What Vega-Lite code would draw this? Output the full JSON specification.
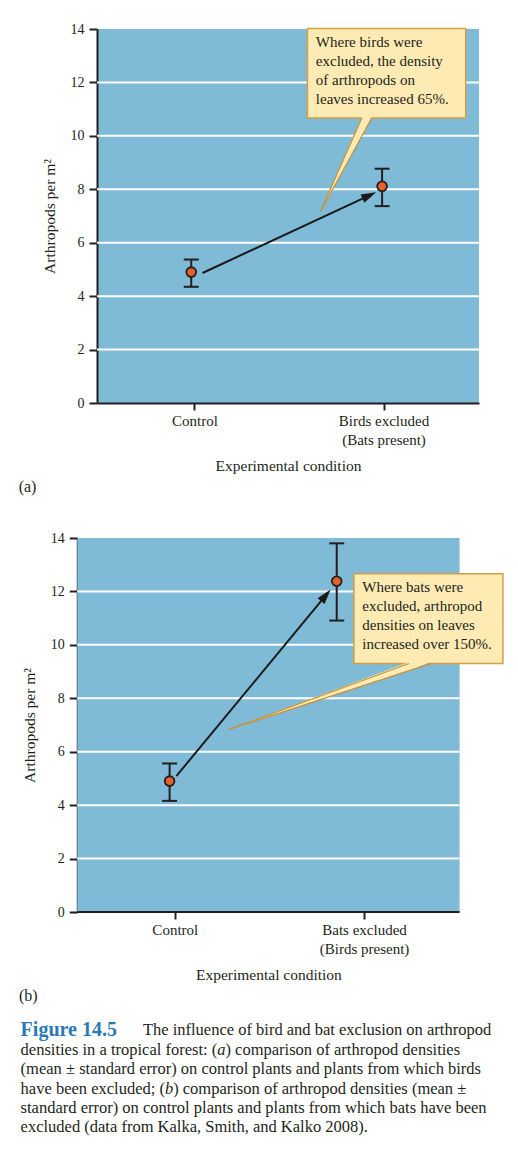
{
  "$schema": "https://vega.github.io/schema/vega-lite/v6.json",
  "background": "white",
  "padding": {"left": 18, "top": 22, "right": 0, "bottom": 0},
  "spacing": 35,
  "config": {
    "font": "Liberation Serif",
    "view": {"stroke": null},
    "axis": {
      "grid": false,
      "domainColor": "#231f20",
      "domainWidth": 2,
      "tickColor": "#231f20",
      "tickWidth": 2,
      "tickSize": 8,
      "labelColor": "#231f20",
      "labelFont": "Liberation Serif",
      "titleFont": "Liberation Serif",
      "titleColor": "#231f20",
      "titleFontWeight": "normal"
    },
    "axisY": {"labelFontSize": 14, "labelPadding": 5, "titleFontSize": 15.5, "titlePadding": 13},
    "axisX": {"labelFontSize": 15, "labelPadding": 3, "labelLineHeight": 19, "titleFontSize": 15.5, "titlePadding": 11, "tickSize": 7, "labelFlush": false}
  },
  "datasets": {
    "ptsA": [
      {"x": 0.2467, "y": 4.9, "lo": 4.35, "hi": 5.37},
      {"x": 0.7463, "y": 8.11, "lo": 7.37, "hi": 8.77}
    ],
    "ptsB": [
      {"x": 0.2414, "y": 4.9, "lo": 4.16, "hi": 5.56},
      {"x": 0.6786, "y": 12.38, "lo": 10.91, "hi": 13.8}
    ],
    "grid": [
      {"v": 2, "x0": 0, "x1": 1}, {"v": 4, "x0": 0, "x1": 1}, {"v": 6, "x0": 0, "x1": 1},
      {"v": 8, "x0": 0, "x1": 1}, {"v": 10, "x0": 0, "x1": 1}, {"v": 12, "x0": 0, "x1": 1}
    ]
  },
  "vconcat": [
    {
      "width": 382,
      "height": 374,
      "view": {"fill": "#7fbbd6", "stroke": null},
      "layer": [
        {
          "data": {"name": "grid"},
          "mark": {"type": "rule", "color": "white", "strokeWidth": 2},
          "encoding": {
            "y": {"field": "v", "type": "quantitative", "scale": {"domain": [0, 14], "nice": false},
              "axis": {"values": [0, 2, 4, 6, 8, 10, 12, 14], "title": "Arthropods per m²"}}
          }
        },
        {
          "data": {"name": "ptsA"},
          "mark": {"type": "rule", "color": "#231f20", "strokeWidth": 2},
          "encoding": {
            "x": {"field": "x", "type": "quantitative", "scale": {"domain": [0, 1], "nice": false, "zero": false},
              "axis": {"values": [0.255, 0.75], "title": "Experimental condition",
                "labelExpr": "datum.value < 0.5 ? 'Control' : ['Birds excluded', '(Bats present)']"}},
            "y": {"field": "lo", "type": "quantitative", "scale": {"domain": [0, 14], "nice": false},
              "axis": {"values": [0, 2, 4, 6, 8, 10, 12, 14], "title": "Arthropods per m²"}},
            "y2": {"field": "hi"}
          }
        },
        {
          "data": {"name": "ptsA"},
          "mark": {"type": "tick", "orient": "horizontal", "size": 15, "thickness": 2, "color": "#231f20", "opacity": 1},
          "encoding": {
            "x": {"field": "x", "type": "quantitative", "scale": {"domain": [0, 1], "nice": false, "zero": false},
              "axis": {"values": [0.255, 0.75], "title": "Experimental condition",
                "labelExpr": "datum.value < 0.5 ? 'Control' : ['Birds excluded', '(Bats present)']"}},
            "y": {"field": "lo", "type": "quantitative", "scale": {"domain": [0, 14], "nice": false},
              "axis": {"values": [0, 2, 4, 6, 8, 10, 12, 14], "title": "Arthropods per m²"}}
          }
        },
        {
          "data": {"name": "ptsA"},
          "mark": {"type": "tick", "orient": "horizontal", "size": 15, "thickness": 2, "color": "#231f20", "opacity": 1},
          "encoding": {
            "x": {"field": "x", "type": "quantitative", "scale": {"domain": [0, 1], "nice": false, "zero": false},
              "axis": {"values": [0.255, 0.75], "title": "Experimental condition",
                "labelExpr": "datum.value < 0.5 ? 'Control' : ['Birds excluded', '(Bats present)']"}},
            "y": {"field": "hi", "type": "quantitative", "scale": {"domain": [0, 14], "nice": false},
              "axis": {"values": [0, 2, 4, 6, 8, 10, 12, 14], "title": "Arthropods per m²"}}
          }
        },
        {
          "data": {"values": [{"x": 0.2762, "y": 4.867}, {"x": 0.7163, "y": 7.791}]},
          "mark": {"type": "line", "color": "#1a1a1a", "strokeWidth": 2},
          "encoding": {
            "x": {"field": "x", "type": "quantitative", "scale": {"domain": [0, 1], "nice": false, "zero": false},
              "axis": {"values": [0.255, 0.75], "title": "Experimental condition",
                "labelExpr": "datum.value < 0.5 ? 'Control' : ['Birds excluded', '(Bats present)']"}},
            "y": {"field": "y", "type": "quantitative", "scale": {"domain": [0, 14], "nice": false},
              "axis": {"values": [0, 2, 4, 6, 8, 10, 12, 14], "title": "Arthropods per m²"}}
          }
        },
        {
          "data": {"values": [{"x": 0.7306, "y": 7.885}]},
          "mark": {"type": "point", "shape": "M0,0L-0.3,1L0.3,1Z", "size": 900, "angle": 65.1, "filled": true, "color": "#1a1a1a", "opacity": 1},
          "encoding": {
            "x": {"field": "x", "type": "quantitative", "scale": {"domain": [0, 1], "nice": false, "zero": false},
              "axis": {"values": [0.255, 0.75], "title": "Experimental condition",
                "labelExpr": "datum.value < 0.5 ? 'Control' : ['Birds excluded', '(Bats present)']"}},
            "y": {"field": "y", "type": "quantitative", "scale": {"domain": [0, 14], "nice": false},
              "axis": {"values": [0, 2, 4, 6, 8, 10, 12, 14], "title": "Arthropods per m²"}}
          }
        },
        {
          "data": {"name": "ptsA"},
          "mark": {"type": "point", "shape": "circle", "size": 95, "filled": true, "fill": "#e4612a", "stroke": "#231f20", "strokeWidth": 1.8, "opacity": 1},
          "encoding": {
            "x": {"field": "x", "type": "quantitative", "scale": {"domain": [0, 1], "nice": false, "zero": false},
              "axis": {"values": [0.255, 0.75], "title": "Experimental condition",
                "labelExpr": "datum.value < 0.5 ? 'Control' : ['Birds excluded', '(Bats present)']"}},
            "y": {"field": "y", "type": "quantitative", "scale": {"domain": [0, 14], "nice": false},
              "axis": {"values": [0, 2, 4, 6, 8, 10, 12, 14], "title": "Arthropods per m²"}}
          }
        },
        {
          "data": {"values": [{"x": 0.5509, "x2": 0.9652, "y": 14.02, "y2": 10.67}]},
          "mark": {"type": "rect", "fill": "#fdebb3", "stroke": "#d39c45", "strokeWidth": 1.5},
          "encoding": {
            "x": {"field": "x", "type": "quantitative", "scale": {"domain": [0, 1], "nice": false, "zero": false},
              "axis": {"values": [0.255, 0.75], "title": "Experimental condition",
                "labelExpr": "datum.value < 0.5 ? 'Control' : ['Birds excluded', '(Bats present)']"}},
            "x2": {"field": "x2"},
            "y": {"field": "y", "type": "quantitative", "scale": {"domain": [0, 14], "nice": false},
              "axis": {"values": [0, 2, 4, 6, 8, 10, 12, 14], "title": "Arthropods per m²"}},
            "y2": {"field": "y2"}
          }
        },
        {
          "data": {"values": [{"x": 0.5859, "y": 7.19, "y2": 7.19}, {"x": 0.6932, "y": 10.72, "y2": 9.99}, {"x": 0.7193, "y": 10.72, "y2": 10.72}]},
          "mark": {"type": "area", "fill": "#fdebb3", "opacity": 1},
          "encoding": {
            "x": {"field": "x", "type": "quantitative", "scale": {"domain": [0, 1], "nice": false, "zero": false},
              "axis": {"values": [0.255, 0.75], "title": "Experimental condition",
                "labelExpr": "datum.value < 0.5 ? 'Control' : ['Birds excluded', '(Bats present)']"}},
            "y": {"field": "y", "type": "quantitative", "scale": {"domain": [0, 14], "nice": false},
              "axis": {"values": [0, 2, 4, 6, 8, 10, 12, 14], "title": "Arthropods per m²"}},
            "y2": {"field": "y2"}
          }
        },
        {
          "data": {"values": [{"x": 0.5859, "y": 7.19, "x2": 0.6932, "y2": 10.67}, {"x": 0.5859, "y": 7.19, "x2": 0.7193, "y2": 10.67}]},
          "mark": {"type": "rule", "color": "#c98f35", "strokeWidth": 1.2},
          "encoding": {
            "x": {"field": "x", "type": "quantitative", "scale": {"domain": [0, 1], "nice": false, "zero": false},
              "axis": {"values": [0.255, 0.75], "title": "Experimental condition",
                "labelExpr": "datum.value < 0.5 ? 'Control' : ['Birds excluded', '(Bats present)']"}},
            "x2": {"field": "x2"},
            "y": {"field": "y", "type": "quantitative", "scale": {"domain": [0, 14], "nice": false},
              "axis": {"values": [0, 2, 4, 6, 8, 10, 12, 14], "title": "Arthropods per m²"}},
            "y2": {"field": "y2"}
          }
        },
        {
          "data": {"values": [{"x": 0.5728, "y": 13.77, "t": ["Where birds were", "excluded, the density", "of arthropods on", "leaves increased 65%."]}]},
          "mark": {"type": "text", "align": "left", "baseline": "top", "fontSize": 15, "lineHeight": 19, "color": "#231f20"},
          "encoding": {
            "x": {"field": "x", "type": "quantitative", "scale": {"domain": [0, 1], "nice": false, "zero": false},
              "axis": {"values": [0.255, 0.75], "title": "Experimental condition",
                "labelExpr": "datum.value < 0.5 ? 'Control' : ['Birds excluded', '(Bats present)']"}},
            "y": {"field": "y", "type": "quantitative", "scale": {"domain": [0, 14], "nice": false},
              "axis": {"values": [0, 2, 4, 6, 8, 10, 12, 14], "title": "Arthropods per m²"}},
            "text": {"field": "t", "type": "nominal"}
          }
        },
        {
          "data": {"values": [{"x": -0.205, "y": -3.145, "t": "(a)"}]},
          "mark": {"type": "text", "align": "left", "baseline": "middle", "fontSize": 16, "color": "#231f20"},
          "encoding": {
            "x": {"field": "x", "type": "quantitative", "scale": {"domain": [0, 1], "nice": false, "zero": false},
              "axis": {"values": [0.255, 0.75], "title": "Experimental condition",
                "labelExpr": "datum.value < 0.5 ? 'Control' : ['Birds excluded', '(Bats present)']"}},
            "y": {"field": "y", "type": "quantitative", "scale": {"domain": [0, 14], "nice": false},
              "axis": {"values": [0, 2, 4, 6, 8, 10, 12, 14], "title": "Arthropods per m²"}},
            "text": {"field": "t", "type": "nominal"}
          }
        }
      ]
    },
    {
      "width": 362.6,
      "height": 374,
      "layer": [
        {
          "data": {"values": [{"x": 0, "x2": 1, "y": 0, "y2": 14}]},
          "mark": {"type": "rect", "fill": "#7fbbd6"},
          "encoding": {
            "x": {"field": "x", "type": "quantitative", "scale": {"domain": [0.0515, 1], "nice": false, "zero": false},
              "axis": {"values": [0.255, 0.75], "title": "Experimental condition", "domain": false, "titleX": 171.4,
                "labelExpr": "datum.value < 0.5 ? 'Control' : ['Bats excluded', '(Birds present)']"}},
            "x2": {"field": "x2"},
            "y": {"field": "y", "type": "quantitative", "scale": {"domain": [0, 14], "nice": false},
              "axis": {"values": [0, 2, 4, 6, 8, 10, 12, 14], "title": "Arthropods per m²", "offset": 19.7}},
            "y2": {"field": "y2"}
          }
        },
        {
          "data": {"name": "grid"},
          "mark": {"type": "rule", "color": "white", "strokeWidth": 2},
          "encoding": {
            "x": {"field": "x0", "type": "quantitative", "scale": {"domain": [0.0515, 1], "nice": false, "zero": false},
              "axis": {"values": [0.255, 0.75], "title": "Experimental condition", "domain": false, "titleX": 171.4,
                "labelExpr": "datum.value < 0.5 ? 'Control' : ['Bats excluded', '(Birds present)']"}},
            "x2": {"field": "x1"},
            "y": {"field": "v", "type": "quantitative", "scale": {"domain": [0, 14], "nice": false},
              "axis": {"values": [0, 2, 4, 6, 8, 10, 12, 14], "title": "Arthropods per m²", "offset": 19.7}}
          }
        },
        {
          "data": {"values": [{"x": 0, "x2": 1, "y": 0}]},
          "mark": {"type": "rule", "color": "#231f20", "strokeWidth": 2},
          "encoding": {
            "x": {"field": "x", "type": "quantitative", "scale": {"domain": [0.0515, 1], "nice": false, "zero": false},
              "axis": {"values": [0.255, 0.75], "title": "Experimental condition", "domain": false, "titleX": 171.4,
                "labelExpr": "datum.value < 0.5 ? 'Control' : ['Bats excluded', '(Birds present)']"}},
            "x2": {"field": "x2"},
            "y": {"field": "y", "type": "quantitative", "scale": {"domain": [0, 14], "nice": false},
              "axis": {"values": [0, 2, 4, 6, 8, 10, 12, 14], "title": "Arthropods per m²", "offset": 19.7}}
          }
        },
        {
          "data": {"name": "ptsB"},
          "mark": {"type": "rule", "color": "#231f20", "strokeWidth": 2},
          "encoding": {
            "x": {"field": "x", "type": "quantitative", "scale": {"domain": [0.0515, 1], "nice": false, "zero": false},
              "axis": {"values": [0.255, 0.75], "title": "Experimental condition", "domain": false, "titleX": 171.4,
                "labelExpr": "datum.value < 0.5 ? 'Control' : ['Bats excluded', '(Birds present)']"}},
            "y": {"field": "lo", "type": "quantitative", "scale": {"domain": [0, 14], "nice": false},
              "axis": {"values": [0, 2, 4, 6, 8, 10, 12, 14], "title": "Arthropods per m²", "offset": 19.7}},
            "y2": {"field": "hi"}
          }
        },
        {
          "data": {"name": "ptsB"},
          "mark": {"type": "tick", "orient": "horizontal", "size": 15, "thickness": 2, "color": "#231f20", "opacity": 1},
          "encoding": {
            "x": {"field": "x", "type": "quantitative", "scale": {"domain": [0.0515, 1], "nice": false, "zero": false},
              "axis": {"values": [0.255, 0.75], "title": "Experimental condition", "domain": false, "titleX": 171.4,
                "labelExpr": "datum.value < 0.5 ? 'Control' : ['Bats excluded', '(Birds present)']"}},
            "y": {"field": "lo", "type": "quantitative", "scale": {"domain": [0, 14], "nice": false},
              "axis": {"values": [0, 2, 4, 6, 8, 10, 12, 14], "title": "Arthropods per m²", "offset": 19.7}}
          }
        },
        {
          "data": {"name": "ptsB"},
          "mark": {"type": "tick", "orient": "horizontal", "size": 15, "thickness": 2, "color": "#231f20", "opacity": 1},
          "encoding": {
            "x": {"field": "x", "type": "quantitative", "scale": {"domain": [0.0515, 1], "nice": false, "zero": false},
              "axis": {"values": [0.255, 0.75], "title": "Experimental condition", "domain": false, "titleX": 171.4,
                "labelExpr": "datum.value < 0.5 ? 'Control' : ['Bats excluded', '(Birds present)']"}},
            "y": {"field": "hi", "type": "quantitative", "scale": {"domain": [0, 14], "nice": false},
              "axis": {"values": [0, 2, 4, 6, 8, 10, 12, 14], "title": "Arthropods per m²", "offset": 19.7}}
          }
        },
        {
          "data": {"values": [{"x": 0.259, "y": 5.086}, {"x": 0.6526, "y": 11.896}]},
          "mark": {"type": "line", "color": "#1a1a1a", "strokeWidth": 2},
          "encoding": {
            "x": {"field": "x", "type": "quantitative", "scale": {"domain": [0.0515, 1], "nice": false, "zero": false},
              "axis": {"values": [0.255, 0.75], "title": "Experimental condition", "domain": false, "titleX": 171.4,
                "labelExpr": "datum.value < 0.5 ? 'Control' : ['Bats excluded', '(Birds present)']"}},
            "y": {"field": "y", "type": "quantitative", "scale": {"domain": [0, 14], "nice": false},
              "axis": {"values": [0, 2, 4, 6, 8, 10, 12, 14], "title": "Arthropods per m²", "offset": 19.7}}
          }
        },
        {
          "data": {"values": [{"x": 0.6626, "y": 12.07}]},
          "mark": {"type": "point", "shape": "M0,0L-0.3,1L0.3,1Z", "size": 900, "angle": 39.6, "filled": true, "color": "#1a1a1a", "opacity": 1},
          "encoding": {
            "x": {"field": "x", "type": "quantitative", "scale": {"domain": [0.0515, 1], "nice": false, "zero": false},
              "axis": {"values": [0.255, 0.75], "title": "Experimental condition", "domain": false, "titleX": 171.4,
                "labelExpr": "datum.value < 0.5 ? 'Control' : ['Bats excluded', '(Birds present)']"}},
            "y": {"field": "y", "type": "quantitative", "scale": {"domain": [0, 14], "nice": false},
              "axis": {"values": [0, 2, 4, 6, 8, 10, 12, 14], "title": "Arthropods per m²", "offset": 19.7}}
          }
        },
        {
          "data": {"name": "ptsB"},
          "mark": {"type": "point", "shape": "circle", "size": 95, "filled": true, "fill": "#e4612a", "stroke": "#231f20", "strokeWidth": 1.8, "opacity": 1},
          "encoding": {
            "x": {"field": "x", "type": "quantitative", "scale": {"domain": [0.0515, 1], "nice": false, "zero": false},
              "axis": {"values": [0.255, 0.75], "title": "Experimental condition", "domain": false, "titleX": 171.4,
                "labelExpr": "datum.value < 0.5 ? 'Control' : ['Bats excluded', '(Birds present)']"}},
            "y": {"field": "y", "type": "quantitative", "scale": {"domain": [0, 14], "nice": false},
              "axis": {"values": [0, 2, 4, 6, 8, 10, 12, 14], "title": "Arthropods per m²", "offset": 19.7}}
          }
        },
        {
          "data": {"values": [{"x": 0.7235, "x2": 1.1133, "y": 12.66, "y2": 9.3}]},
          "mark": {"type": "rect", "fill": "#fdebb3", "stroke": "#d39c45", "strokeWidth": 1.5},
          "encoding": {
            "x": {"field": "x", "type": "quantitative", "scale": {"domain": [0.0515, 1], "nice": false, "zero": false},
              "axis": {"values": [0.255, 0.75], "title": "Experimental condition", "domain": false, "titleX": 171.4,
                "labelExpr": "datum.value < 0.5 ? 'Control' : ['Bats excluded', '(Birds present)']"}},
            "x2": {"field": "x2"},
            "y": {"field": "y", "type": "quantitative", "scale": {"domain": [0, 14], "nice": false},
              "axis": {"values": [0, 2, 4, 6, 8, 10, 12, 14], "title": "Arthropods per m²", "offset": 19.7}},
            "y2": {"field": "y2"}
          }
        },
        {
          "data": {"values": [{"x": 0.3966, "y": 6.83, "y2": 6.83}, {"x": 0.8674, "y": 9.36, "y2": 9.035}, {"x": 0.9242, "y": 9.36, "y2": 9.36}]},
          "mark": {"type": "area", "fill": "#fdebb3", "opacity": 1},
          "encoding": {
            "x": {"field": "x", "type": "quantitative", "scale": {"domain": [0.0515, 1], "nice": false, "zero": false},
              "axis": {"values": [0.255, 0.75], "title": "Experimental condition", "domain": false, "titleX": 171.4,
                "labelExpr": "datum.value < 0.5 ? 'Control' : ['Bats excluded', '(Birds present)']"}},
            "y": {"field": "y", "type": "quantitative", "scale": {"domain": [0, 14], "nice": false},
              "axis": {"values": [0, 2, 4, 6, 8, 10, 12, 14], "title": "Arthropods per m²", "offset": 19.7}},
            "y2": {"field": "y2"}
          }
        },
        {
          "data": {"values": [{"x": 0.3966, "y": 6.83, "x2": 0.8674, "y2": 9.3}, {"x": 0.3966, "y": 6.83, "x2": 0.9242, "y2": 9.3}]},
          "mark": {"type": "rule", "color": "#c98f35", "strokeWidth": 1.2},
          "encoding": {
            "x": {"field": "x", "type": "quantitative", "scale": {"domain": [0.0515, 1], "nice": false, "zero": false},
              "axis": {"values": [0.255, 0.75], "title": "Experimental condition", "domain": false, "titleX": 171.4,
                "labelExpr": "datum.value < 0.5 ? 'Control' : ['Bats excluded', '(Birds present)']"}},
            "x2": {"field": "x2"},
            "y": {"field": "y", "type": "quantitative", "scale": {"domain": [0, 14], "nice": false},
              "axis": {"values": [0, 2, 4, 6, 8, 10, 12, 14], "title": "Arthropods per m²", "offset": 19.7}},
            "y2": {"field": "y2"}
          }
        },
        {
          "data": {"values": [{"x": 0.7455, "y": 12.42, "t": ["Where bats were", "excluded, arthropod", "densities on leaves", "increased over 150%."]}]},
          "mark": {"type": "text", "align": "left", "baseline": "top", "fontSize": 15, "lineHeight": 19, "color": "#231f20"},
          "encoding": {
            "x": {"field": "x", "type": "quantitative", "scale": {"domain": [0.0515, 1], "nice": false, "zero": false},
              "axis": {"values": [0.255, 0.75], "title": "Experimental condition", "domain": false, "titleX": 171.4,
                "labelExpr": "datum.value < 0.5 ? 'Control' : ['Bats excluded', '(Birds present)']"}},
            "y": {"field": "y", "type": "quantitative", "scale": {"domain": [0, 14], "nice": false},
              "axis": {"values": [0, 2, 4, 6, 8, 10, 12, 14], "title": "Arthropods per m²", "offset": 19.7}},
            "text": {"field": "t", "type": "nominal"}
          }
        },
        {
          "data": {"values": [{"x": -0.1528, "y": -3.141, "t": "(b)"}]},
          "mark": {"type": "text", "align": "left", "baseline": "middle", "fontSize": 16, "color": "#231f20"},
          "encoding": {
            "x": {"field": "x", "type": "quantitative", "scale": {"domain": [0.0515, 1], "nice": false, "zero": false},
              "axis": {"values": [0.255, 0.75], "title": "Experimental condition", "domain": false, "titleX": 171.4,
                "labelExpr": "datum.value < 0.5 ? 'Control' : ['Bats excluded', '(Birds present)']"}},
            "y": {"field": "y", "type": "quantitative", "scale": {"domain": [0, 14], "nice": false},
              "axis": {"values": [0, 2, 4, 6, 8, 10, 12, 14], "title": "Arthropods per m²", "offset": 19.7}},
            "text": {"field": "t", "type": "nominal"}
          }
        },
        {
          "data": {"values": [{"x": -0.1483, "y": -4.424, "t": "Figure 14.5"}]},
          "mark": {"type": "text", "align": "left", "baseline": "middle", "fontSize": 20, "fontWeight": "bold", "color": "#2a79b6"},
          "encoding": {
            "x": {"field": "x", "type": "quantitative", "scale": {"domain": [0.0515, 1], "nice": false, "zero": false},
              "axis": {"values": [0.255, 0.75], "title": "Experimental condition", "domain": false, "titleX": 171.4,
                "labelExpr": "datum.value < 0.5 ? 'Control' : ['Bats excluded', '(Birds present)']"}},
            "y": {"field": "y", "type": "quantitative", "scale": {"domain": [0, 14], "nice": false},
              "axis": {"values": [0, 2, 4, 6, 8, 10, 12, 14], "title": "Arthropods per m²", "offset": 19.7}},
            "text": {"field": "t", "type": "nominal"}
          }
        },
        {
          "data": {"values": [
            {"x": 0.1716, "y": -4.424, "t": "The influence of bird and bat exclusion on arthropod"},
            {"x": -0.1483, "y": -5.153, "t": "densities in a tropical forest: ("},
            {"x": 0.3875, "y": -5.153, "t": ") comparison of arthropod densities"},
            {"x": -0.1483, "y": -5.879, "t": "(mean ± standard error) on control plants and plants from which birds"},
            {"x": -0.1483, "y": -6.608, "t": "have been excluded; ("},
            {"x": 0.2507, "y": -6.608, "t": ") comparison of arthropod densities (mean ±"},
            {"x": -0.1483, "y": -7.334, "t": "standard error) on control plants and plants from which bats have been"},
            {"x": -0.1483, "y": -8.063, "t": "excluded (data from Kalka, Smith, and Kalko 2008)."}
          ]},
          "mark": {"type": "text", "align": "left", "baseline": "middle", "fontSize": 16.5, "color": "#231f20"},
          "encoding": {
            "x": {"field": "x", "type": "quantitative", "scale": {"domain": [0.0515, 1], "nice": false, "zero": false},
              "axis": {"values": [0.255, 0.75], "title": "Experimental condition", "domain": false, "titleX": 171.4,
                "labelExpr": "datum.value < 0.5 ? 'Control' : ['Bats excluded', '(Birds present)']"}},
            "y": {"field": "y", "type": "quantitative", "scale": {"domain": [0, 14], "nice": false},
              "axis": {"values": [0, 2, 4, 6, 8, 10, 12, 14], "title": "Arthropods per m²", "offset": 19.7}},
            "text": {"field": "t", "type": "nominal"}
          }
        },
        {
          "data": {"values": [
            {"x": 0.3659, "y": -5.153, "t": "a"},
            {"x": 0.2291, "y": -6.608, "t": "b"}
          ]},
          "mark": {"type": "text", "align": "left", "baseline": "middle", "fontSize": 16.5, "fontStyle": "italic", "color": "#231f20"},
          "encoding": {
            "x": {"field": "x", "type": "quantitative", "scale": {"domain": [0.0515, 1], "nice": false, "zero": false},
              "axis": {"values": [0.255, 0.75], "title": "Experimental condition", "domain": false, "titleX": 171.4,
                "labelExpr": "datum.value < 0.5 ? 'Control' : ['Bats excluded', '(Birds present)']"}},
            "y": {"field": "y", "type": "quantitative", "scale": {"domain": [0, 14], "nice": false},
              "axis": {"values": [0, 2, 4, 6, 8, 10, 12, 14], "title": "Arthropods per m²", "offset": 19.7}},
            "text": {"field": "t", "type": "nominal"}
          }
        }
      ]
    }
  ]
}
